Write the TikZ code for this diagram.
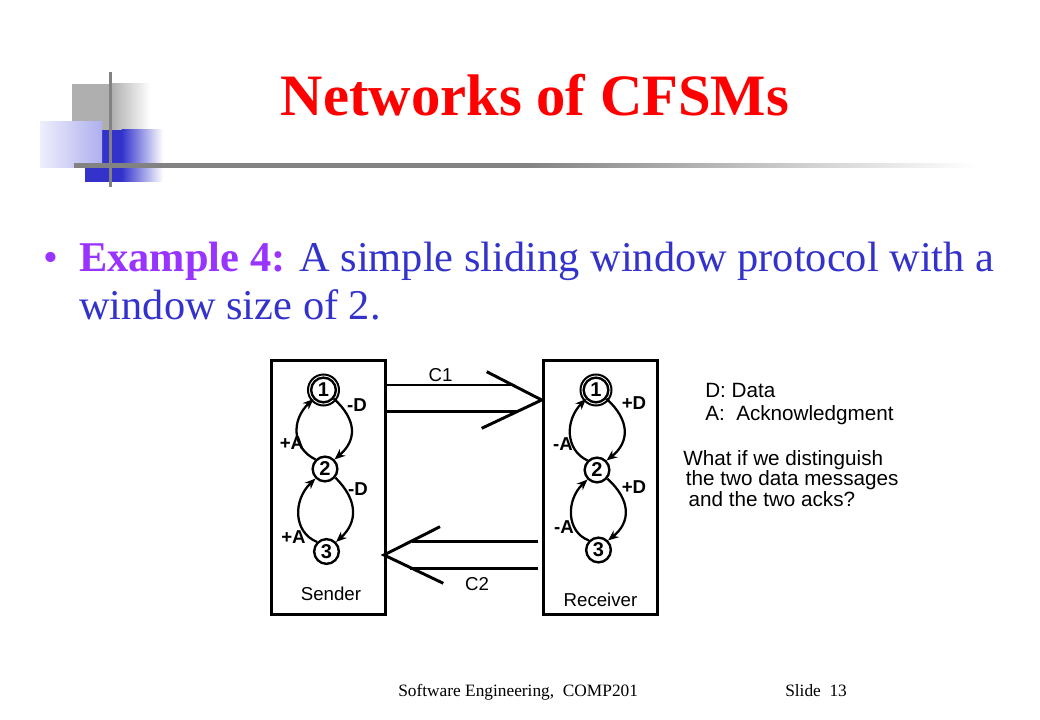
\documentclass[tikz,border=0pt]{standalone}
\usepackage{fontspec}
\setmainfont{Liberation Serif}
\newfontfamily\arialfont{Liberation Sans}
\usetikzlibrary{arrows.meta}
\definecolor{titlered}{RGB}{255,0,0}
\definecolor{bulletpurple}{RGB}{153,51,255}
\definecolor{bodyblue}{RGB}{51,51,204}
\definecolor{decogray}{RGB}{175,175,175}
\definecolor{linegray}{RGB}{130,130,130}
\definecolor{decoblue}{RGB}{51,51,204}
\definecolor{lavleft}{RGB}{238,238,252}
\definecolor{lavright}{RGB}{175,175,238}
\pgfdeclarehorizontalshading{linefade}{100bp}{color(0bp)=(linegray); color(50bp)=(linegray); color(75bp)=(white); color(100bp)=(white)}
\begin{document}
\begin{tikzpicture}[x=0.75pt,y=-0.75pt,
  statebox/.style={draw, line width=1.8pt, circle, inner sep=0pt, minimum size=18.5pt, font=\arialfont\bfseries\fontsize{15}{15}\selectfont},
  procbox/.style={draw, line width=2.2pt, inner sep=0pt},
  trans/.style={line width=1.7pt, -{Stealth[length=8pt,width=6.5pt]}},
  chan/.style={line width=2.2pt},
  tlabel/.style={font=\arialfont\bfseries\fontsize{14}{14}\selectfont, inner sep=0pt},
  dlabel/.style={font=\arialfont\fontsize{14}{14}\selectfont, inner sep=0pt},
  note/.style={font=\arialfont\fontsize{15.5}{13.5}\selectfont, inner sep=0pt, anchor=north west, align=left}
]
\useasboundingbox (0,0) rectangle (1040,720);
\fill[white] (0,0) rectangle (1040,720);

% decoration
\fill[decogray] (72,84) rectangle (112,130);
\shade[left color=decogray, right color=white] (111.5,84) rectangle (150,130);
\fill[decoblue] (85,130) rectangle (122,182);
\shade[left color=decoblue, right color=white] (121.5,130) rectangle (163,182);
\shade[left color=lavleft, right color=lavright] (40,122) rectangle (102,168);
\shade[shading=linefade] (74,164) rectangle (975,168);
\fill[linegray] (109,72) rectangle (112,187);

% title
\node[font=\bfseries\fontsize{44}{44}\selectfont, text=titlered, anchor=base, inner sep=0pt] (title) at (535,116) {Networks of CFSMs};

% bullet
\node[font=\fontsize{31.8}{31.8}\selectfont, text=bulletpurple, anchor=base west, inner sep=0pt] (bullet) at (43,272) {\textbullet};
\node[font=\fontsize{31.8}{31.8}\selectfont, anchor=base west, inner sep=0pt] (line1) at (79,272) {\textcolor{bulletpurple}{\bfseries Example 4:} \textcolor{bodyblue}{A simple sliding window protocol with a}};
\node[font=\fontsize{31.8}{31.8}\selectfont, text=bodyblue, anchor=base west, inner sep=0pt] (line2) at (79,320) {window size of 2.};

% process boxes
\node[procbox, minimum width=86pt, minimum height=191pt] (sender) at (328.5,487.5) {};
\node[procbox, minimum width=86pt, minimum height=191pt] (receiver) at (600.5,487.5) {};
\node[dlabel] (sendertext) at (331,594) {Sender};
\node[dlabel] (receivertext) at (600.5,600) {Receiver};

% sender states
\node[statebox] (s1) at (323.5,390) {1};
\draw[line width=1.5pt] (s1.center) circle (15.5);
\node[statebox] (s2) at (325,469) {2};
\node[statebox] (s3) at (326.5,551.5) {3};

\draw[trans] (s1.-40) .. controls (357,420) and (357,440) .. (s2.45);
\draw[trans] (s2.135) .. controls (292,448) and (291,420) .. (s1.-138);
\draw[trans] (s2.-40) .. controls (358,500) and (358,522) .. (s3.45);
\draw[trans] (s3.135) .. controls (293,532) and (293,500) .. (s2.-135);

\node[tlabel] (ls1) at (357,405.5) {-D};
\node[tlabel] (ls2) at (292,443) {+A};
\node[tlabel] (ls3) at (358,489) {-D};
\node[tlabel] (ls4) at (293.5,536.7) {+A};

% receiver states
\node[statebox] (r1) at (596,390) {1};
\draw[line width=1.5pt] (r1.center) circle (15.5);
\node[statebox] (r2) at (597,470) {2};
\node[statebox] (r3) at (598.5,550) {3};

\draw[trans] (r1.-40) .. controls (630,420) and (630,442) .. (r2.45);
\draw[trans] (r2.135) .. controls (565,450) and (565,420) .. (r1.-138);
\draw[trans] (r2.-40) .. controls (631,500) and (631,522) .. (r3.45);
\draw[trans] (r3.135) .. controls (566,532) and (566,500) .. (r2.-135);

\node[tlabel] (lr1) at (634,403.3) {+D};
\node[tlabel] (lr2) at (563,444) {-A};
\node[tlabel] (lr3) at (634,486.7) {+D};
\node[tlabel] (lr4) at (564,527.5) {-A};

% channel C1
\coordinate (c1tip) at (541.7,400);
\coordinate (c1a) at (486.7,371.7);
\coordinate (c1b) at (481.7,428.3);
\coordinate (c1t) at (386,385);
\coordinate (c1u) at (386,411.7);
\draw[chan] (c1a) -- (c1tip) -- (c1b);
\draw[chan] (c1t) -- (512.6,385);
\draw[chan] (c1u) -- (516.9,411.7);
\node[dlabel] (c1label) at (440.5,375) {C1};

% channel C2
\coordinate (c2tip) at (384,555);
\coordinate (c2a) at (440,526.7);
\coordinate (c2b) at (443.3,583.3);
\draw[chan] (c2a) -- (c2tip) -- (c2b);
\draw[chan] (538.3,541.7) -- (411.5,541.7);
\draw[chan] (538.3,568.3) -- (409.5,568.3);
\node[dlabel] (c2label) at (477,584.5) {C2};

% notes
\node[note, font=\arialfont\fontsize{15.5}{17.5}\selectfont] (legend) at (705,383) {D: Data\\A:\ \ Acknowledgment};
\node[note] (question) at (683,450) {What if we distinguish\\\hspace*{2pt}the two data messages\\\hspace*{4pt}and the two acks?};

% footer
\node[font=\fontsize{13}{13}\selectfont, anchor=base west, inner sep=0pt] (foot1) at (398,696) {Software Engineering,\ \ COMP201};
\node[font=\fontsize{13}{13}\selectfont, anchor=base west, inner sep=0pt] (foot2) at (785,696) {Slide\ \ 13};
\end{tikzpicture}
\end{document}
